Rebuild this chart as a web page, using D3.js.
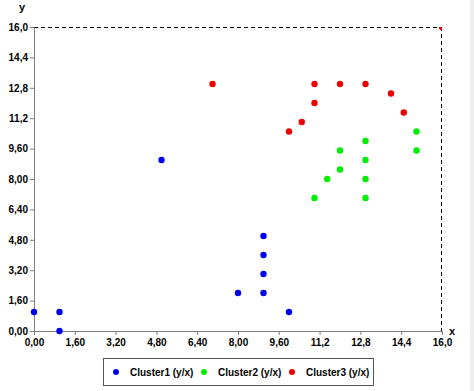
<!DOCTYPE html>
<html><head><meta charset="utf-8">
<script src="https://d3js.org/d3.v7.min.js"></script>
<style>body{margin:0;background:#fff}svg{display:block}text{font-family:"Liberation Sans",Arial,sans-serif;font-weight:bold;font-size:10px;fill:#000}</style>
</head><body>
<script>
const series = ["Cluster1 (y/x)", "Cluster2 (y/x)", "Cluster3 (y/x)"];
const colors = ["#0000ee", "#00ee00", "#ee0000"];
const cluster1X = [0, 1, 1, 5, 8, 9, 9, 9, 9, 10];
const cluster1Y = [1, 1, 0, 9, 2, 2, 3, 4, 5, 1];
const cluster2X = [11, 11.5, 12, 12, 13, 13, 13, 13, 15, 15];
const cluster2Y = [7, 8, 8.5, 9.5, 7, 8, 9, 10, 9.5, 10.5];
const cluster3X = [7, 11, 12, 13, 14, 14.5, 11, 10.5, 10, 16];
const cluster3Y = [13, 13, 13, 13, 12.5, 11.5, 12, 11, 10.5, 16];
const tickValues = [0, 1.6, 3.2, 4.8, 6.4, 8, 9.6, 11.2, 12.8, 14.4, 16];
const tickLabels = ["0,00","1,60","3,20","4,80","6,40","8,00","9,60","11,2","12,8","14,4","16,0"];

const W = 474, H = 391;
const svg = d3.select("body").append("svg").attr("width", W).attr("height", H);
svg.append("rect").attr("x", 470).attr("y", 0).attr("width", 4).attr("height", H).attr("fill", "#eeeeee");

const x = d3.scaleLinear().domain([0, 16]).range([34, 442]);
const y = d3.scaleLinear().domain([0, 16]).range([331, 27]);

// dashed top/right borders
svg.append("line").attr("x1", 34).attr("x2", 442).attr("y1", 27.5).attr("y2", 27.5)
  .attr("stroke", "#000").attr("stroke-dasharray", "4,3");
svg.append("line").attr("x1", 441.5).attr("x2", 441.5).attr("y1", 27).attr("y2", 331)
  .attr("stroke", "#000").attr("stroke-dasharray", "4,3");

const fmt = d => tickLabels[tickValues.indexOf(d)];
const xAxis = svg.append("g").attr("transform", "translate(0,331)")
  .call(d3.axisBottom(x).tickValues(tickValues).tickFormat(fmt).tickSize(4).tickSizeOuter(0));
const yAxis = svg.append("g").attr("transform", "translate(34,0)")
  .call(d3.axisLeft(y).tickValues(tickValues).tickFormat(fmt).tickSize(4).tickSizeOuter(0));
[xAxis, yAxis].forEach(g => {
  g.select(".domain").attr("stroke", "#808080");
  g.selectAll(".tick line").attr("stroke", "#808080");
  g.selectAll("text").attr("font-family", null).attr("font-size", null).style("fill", "#000");
});
xAxis.selectAll("text").attr("dy", "0.71em").attr("y", 8);
yAxis.selectAll("text").attr("x", -6);

svg.append("text").attr("x", 449).attr("y", 335).text("x").style("font-size", "11px");
svg.append("text").attr("x", 19).attr("y", 11).text("y").style("font-size", "11px");

const data = [[cluster1X, cluster1Y], [cluster2X, cluster2Y], [cluster3X, cluster3Y]];
const clip = svg.append("clipPath").attr("id", "c").append("rect")
  .attr("x", 30).attr("y", 27).attr("width", 412).attr("height", 310);
data.forEach((d, i) => {
  svg.append("g").attr("clip-path", "url(#c)").selectAll("circle").data(d[0]).join("circle")
    .attr("cx", (v) => x(v)).attr("cy", (v, j) => y(d[1][j])).attr("r", 3.2).attr("fill", colors[i]);
});

// legend
const lg = svg.append("g");
lg.append("rect").attr("x", 103.5).attr("y", 358.5).attr("width", 270).attr("height", 27)
  .attr("fill", "#fff").attr("stroke", "#555").attr("stroke-width", 1);
const lx = [116, 204, 292];
series.forEach((s, i) => {
  lg.append("circle").attr("cx", lx[i]).attr("cy", 372).attr("r", 3).attr("fill", colors[i]);
  lg.append("text").attr("x", lx[i] + 14).attr("y", 376).text(s);
});
</script>
</body></html>
